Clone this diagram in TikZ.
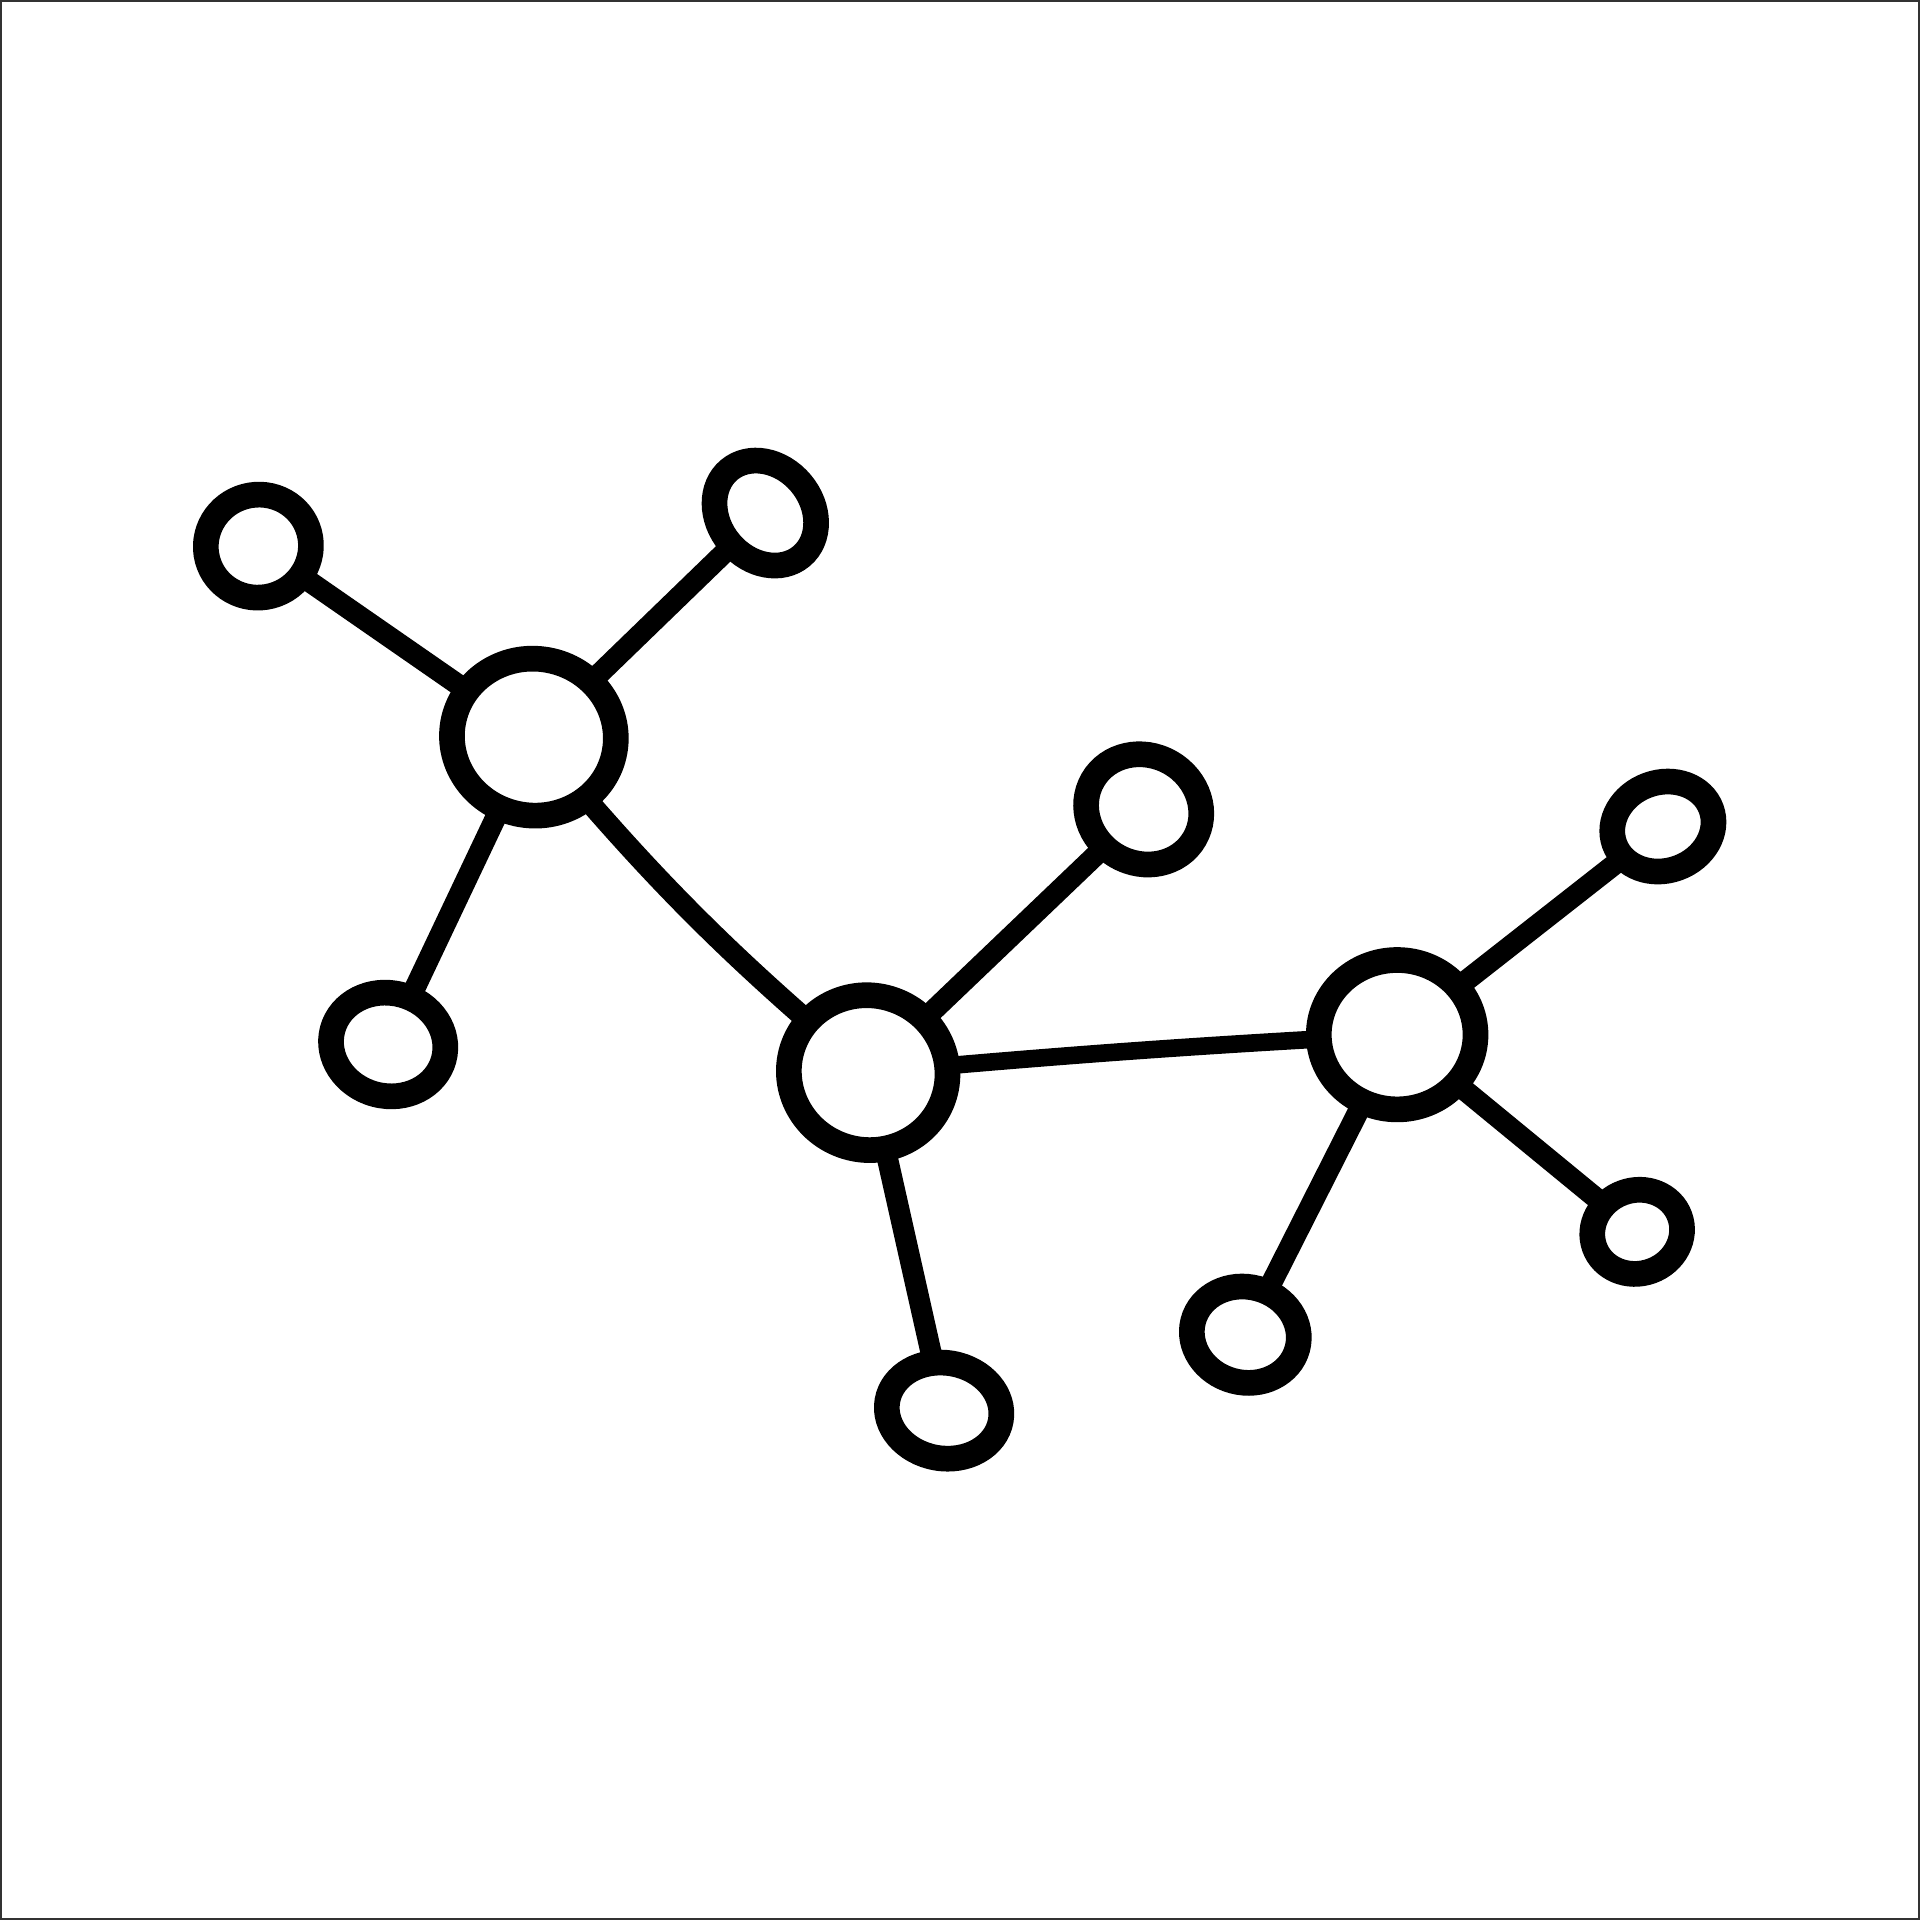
\documentclass[tikz,border=0pt]{standalone}
\usetikzlibrary{shapes.geometric}
\newlength{\uu}
\setlength{\uu}{0.012245cm}
\pgfdeclarelayer{bg}
\pgfsetlayers{bg,main}
\begin{document}
\begin{tikzpicture}[x=0.012245cm,y=-0.012245cm,
  atom/.style={ellipse,draw=black,fill=white,line width=7.3pt,inner sep=0pt},
  bond/.style={line width=6pt,line cap=round},
  thinbond/.style={line width=5pt,line cap=round}]
\useasboundingbox (0,0) rectangle (1568,1568);
\draw[line width=0.6pt,black!80] (0.5,0.5) rectangle (1567.5,1567.5);
% atoms
\node[atom,minimum width={86*\uu},minimum height={84*\uu},rotate=15] (A) at (211,446) {};
\node[atom,minimum width={134*\uu},minimum height={128*\uu},rotate=-10] (B) at (436,602) {};
\node[atom,minimum width={92*\uu},minimum height={76*\uu},rotate=-50] (C) at (625,419) {};
\node[atom,minimum width={94*\uu},minimum height={84*\uu},rotate=-15] (D) at (317,853) {};
\node[atom,minimum width={130*\uu},minimum height={126*\uu},rotate=-20] (E) at (709,876) {};
\node[atom,minimum width={96*\uu},minimum height={88*\uu},rotate=-30] (F) at (934,661) {};
\node[atom,minimum width={94*\uu},minimum height={78*\uu},rotate=-10] (G) at (771,1152) {};
\node[atom,minimum width={128*\uu},minimum height={122*\uu}] (H) at (1141,845) {};
\node[atom,minimum width={84*\uu},minimum height={72*\uu},rotate=20] (I) at (1358,675) {};
\node[atom,minimum width={74*\uu},minimum height={68*\uu},rotate=20] (J) at (1337,1006) {};
\node[atom,minimum width={88*\uu},minimum height={78*\uu},rotate=-15] (K) at (1017,1090) {};
% bonds
\begin{pgfonlayer}{bg}
\draw[bond] (A.center) -- (B.center);
\draw[bond] (C.center) -- (B.center);
\draw[bond] (B.center) -- (D.center);
\draw[bond] (B.center) to[bend right=5] (E.center);
\draw[bond] (E.center) -- (F.center);
\draw[bond] (E.center) -- (G.center);
\draw[thinbond] (E.center) to[bend left=1] (H.center);
\draw[bond] (H.center) -- (I.center);
\draw[bond] (H.center) -- (J.center);
\draw[bond] (H.center) -- (K.center);
\end{pgfonlayer}
\end{tikzpicture}
\end{document}
